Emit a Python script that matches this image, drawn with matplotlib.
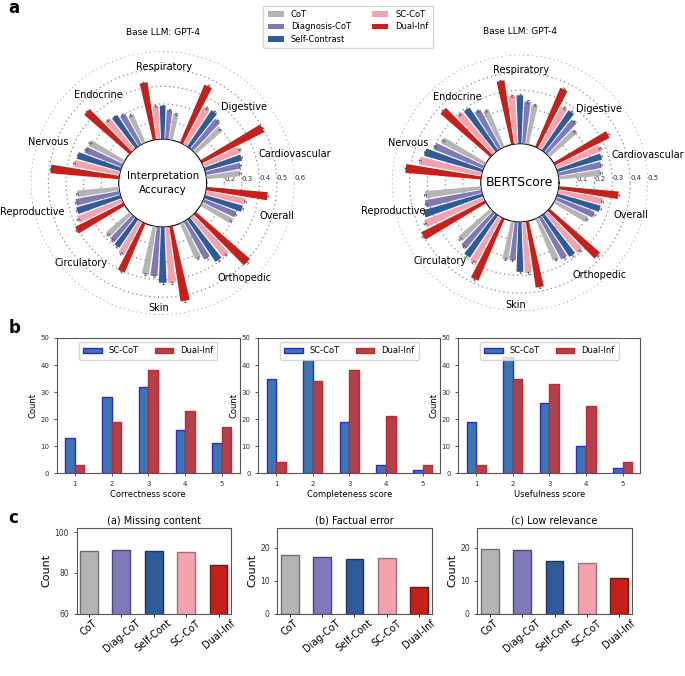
import numpy as np
import matplotlib
matplotlib.use("Agg")
import matplotlib.pyplot as plt
from matplotlib.patches import Patch

# ---------------- data ----------------
methods = ['CoT', 'Diagnosis-CoT', 'Self-Contrast', 'SC-CoT', 'Dual-Inf']
short_methods = ['CoT', 'Diag-CoT', 'Self-Cont', 'SC-CoT', 'Dual-Inf']
colors = ['#b4b4b4', '#7f79b9', '#2f5b98', '#f3a2ae', '#c6201b']
edge_colors = ['#6e6e6e', '#4a4680', '#1c3560', '#a0707a', '#7a1410']

categories = ['Cardiovascular', 'Digestive', 'Respiratory', 'Endocrine', 'Nervous',
              'Reproductive', 'Circulatory', 'Skin', 'Orthopedic', 'Overall']

# interpretation accuracy (GPT-4), one list per method, in category order
acc_cot = [0.293, 0.293, 0.250, 0.276, 0.323, 0.340, 0.278, 0.379, 0.322, 0.290]
acc_diag = [0.303, 0.322, 0.266, 0.298, 0.327, 0.354, 0.284, 0.381, 0.345, 0.300]
acc_self = [0.320, 0.349, 0.290, 0.316, 0.358, 0.361, 0.293, 0.417, 0.390, 0.324]
acc_sc = [0.326, 0.344, 0.290, 0.325, 0.366, 0.373, 0.316, 0.419, 0.392, 0.331]
acc_dual = [0.497, 0.458, 0.430, 0.441, 0.491, 0.407, 0.404, 0.531, 0.507, 0.450]

# BERTScore (GPT-4)
bert_cot = [0.237, 0.200, 0.226, 0.228, 0.275, 0.316, 0.241, 0.218, 0.256, 0.207]
bert_diag = [0.247, 0.240, 0.239, 0.248, 0.300, 0.323, 0.258, 0.218, 0.269, 0.231]
bert_self = [0.260, 0.271, 0.272, 0.289, 0.340, 0.344, 0.286, 0.280, 0.281, 0.252]
bert_sc = [0.272, 0.269, 0.271, 0.292, 0.357, 0.359, 0.298, 0.288, 0.287, 0.255]
bert_dual = [0.344, 0.361, 0.363, 0.372, 0.427, 0.400, 0.378, 0.376, 0.377, 0.337]

# panel b: score histograms
scores = [1, 2, 3, 4, 5]
correct_sc = [13, 28, 32, 16, 11]
correct_dual = [3, 19, 38, 23, 17]
complete_sc = [35, 42, 19, 3, 1]
complete_dual = [4, 34, 38, 21, 3]
useful_sc = [19, 43, 26, 10, 2]
useful_dual = [3, 35, 33, 25, 4]

# panel c: error counts
missing_content = [90.9, 91.1, 90.5, 90.0, 83.8]
factual_error = [17.7, 17.3, 16.5, 17.0, 8.2]
low_relevance = [19.6, 19.2, 16.0, 15.4, 10.8]

# ---------------- layout ----------------
fig = plt.figure(figsize=(6.85, 6.76), dpi=100)

# label centres in axes fraction for the category names
label_xy = [(1.00, 0.61), (0.81, 0.79), (0.505, 0.94), (0.255, 0.835), (0.065, 0.655),
            (0.005, 0.39), (0.19, 0.195), (0.485, 0.025), (0.81, 0.14), (0.935, 0.375)]


def radial_bars(rect, series, rmin, rmax, rorigin, rticks, centre_text, centre_size, title_y):
    ax = fig.add_axes(rect, projection='polar')
    n = len(categories)
    step = np.deg2rad(5.4)
    for j, vals in enumerate(series):
        theta = np.deg2rad(18 + 36 * np.arange(n)) + (j - 2) * step
        vals = np.array(vals)
        ax.bar(theta, vals - rmin, width=step * 0.82, bottom=rmin,
               color=colors[j], linewidth=0, zorder=3)
        ax.errorbar(theta, vals, yerr=0.006, fmt='none', ecolor='#555555',
                    elinewidth=0.6, capsize=1.0, capthick=0.6, zorder=4)
    ax.set_ylim(rmin, rmax)
    ax.set_rorigin(rorigin)
    ax.set_yticks(rticks)
    ax.set_yticklabels([f'{t:.1f}' for t in rticks], fontsize=5, color='#333333')
    ax.set_rlabel_position(1)
    ax.set_xticks([])
    ax.spines['polar'].set_visible(False)
    ax.yaxis.grid(True, linestyle=(0, (1, 2.5)), color='#888888', linewidth=0.9)
    ax.xaxis.grid(False)
    for name, (x, y) in zip(categories, label_xy):
        ax.text(x, y, name, transform=ax.transAxes, ha='center', va='center', fontsize=7)
    ax.text(0.5, 0.5, centre_text, transform=ax.transAxes, ha='center', va='center',
            fontsize=centre_size, linespacing=1.6)
    ax.text(0.5, title_y, 'Base LLM: GPT-4', transform=ax.transAxes, ha='center',
            va='center', fontsize=6.5)
    return ax


radial_bars([0.045, 0.534, 0.385, 0.3905],
            [acc_cot, acc_diag, acc_self, acc_sc, acc_dual],
            0.1, 0.6, -0.15, [0.2, 0.3, 0.4, 0.5, 0.6],
            'Interpretation\nAccuracy', 7.5, 1.072)
radial_bars([0.572, 0.54, 0.374, 0.379],
            [bert_cot, bert_diag, bert_self, bert_sc, bert_dual],
            0.0, 0.5, -0.22, [0.1, 0.2, 0.3, 0.4, 0.5],
            'BERTScore', 9, 1.09)

handles = [Patch(facecolor=c, edgecolor='none') for c in colors]
fig.legend(handles, methods, loc='upper center', bbox_to_anchor=(0.508, 0.998),
           ncol=2, fontsize=6, handlelength=2.0, columnspacing=2.5, labelspacing=0.45,
           borderpad=0.5)

# ---------------- panel b ----------------
b_rects = [[0.083, 0.300, 0.267, 0.2], [0.377, 0.300, 0.266, 0.2], [0.669, 0.300, 0.266, 0.2]]
b_data = [(correct_sc, correct_dual, 'Correctness score'),
          (complete_sc, complete_dual, 'Completeness score'),
          (useful_sc, useful_dual, 'Usefulness score')]
w = 0.26
x = np.array(scores)
for rect, (sc, dual, xlabel) in zip(b_rects, b_data):
    ax = fig.add_axes(rect)
    ax.bar(x - w / 2, sc, w, color='#3b76b0', edgecolor='#2b2bcc', linewidth=1.0, label='SC-CoT')
    ax.bar(x + w / 2, dual, w, color='#b3404a', edgecolor='#c42a2a', linewidth=1.0, label='Dual-Inf')
    ax.set_ylim(0, 50)
    ax.set_yticks([0, 10, 20, 30, 40, 50])
    ax.set_xticks(scores)
    ax.tick_params(labelsize=5, length=2, width=0.6, colors='#333333')
    ax.set_xlabel(xlabel, fontsize=6, labelpad=2)
    ax.set_ylabel('Count', fontsize=6, labelpad=2)
    for s in ax.spines.values():
        s.set_color('#555555')
        s.set_linewidth(0.8)
    ax.legend(loc='upper center', ncol=2, fontsize=6, handlelength=2.2, columnspacing=2.0,
              borderpad=0.5)

# ---------------- panel c ----------------
c_rects = [[0.112, 0.092, 0.225, 0.127], [0.405, 0.092, 0.225, 0.127], [0.697, 0.092, 0.225, 0.127]]
c_data = [(missing_content, '(a) Missing content', (60, 102), [60, 80, 100]),
          (factual_error, '(b) Factual error', (0, 26), [0, 10, 20]),
          (low_relevance, '(c) Low relevance', (0, 26), [0, 10, 20])]
xc = np.arange(len(short_methods))
for rect, (vals, title, ylim, yt) in zip(c_rects, c_data):
    ax = fig.add_axes(rect)
    ax.bar(xc, vals, 0.55, color=colors, edgecolor=edge_colors, linewidth=1.0)
    ax.set_ylim(*ylim)
    ax.set_yticks(yt)
    ax.set_xlim(-0.38, 4.38)
    ax.set_xticks(xc)
    ax.set_xticklabels(short_methods, rotation=40, ha='center', fontsize=7)
    ax.tick_params(axis='y', labelsize=5.5, length=2, width=0.6, colors='#333333')
    ax.tick_params(axis='x', length=2, width=0.6, pad=1)
    ax.set_title(title, fontsize=7, pad=3)
    ax.set_ylabel('Count', fontsize=8, labelpad=2)
    for s in ax.spines.values():
        s.set_color('#555555')
        s.set_linewidth(0.8)

fig.text(0.012, 0.988, 'a', fontsize=12, fontweight='bold', va='center')
fig.text(0.012, 0.515, 'b', fontsize=12, fontweight='bold', va='center')
fig.text(0.012, 0.234, 'c', fontsize=12, fontweight='bold', va='center')

fig.savefig('out.png', dpi=100)
